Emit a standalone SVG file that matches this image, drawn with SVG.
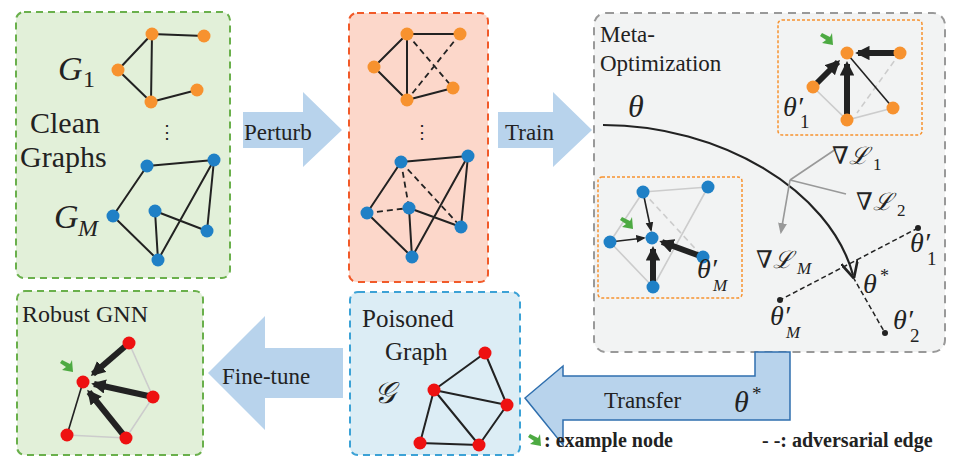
<svg xmlns="http://www.w3.org/2000/svg" width="960" height="471" viewBox="0 0 960 471">
<defs>
<style>
text{font-family:"Liberation Serif","DejaVu Serif","Times New Roman",serif}
.t{fill:#222}
.m{font-style:italic;fill:#222}
.e{stroke:#222;stroke-width:2;fill:none}
.d{stroke:#222;stroke-width:1.8;stroke-dasharray:6,4;fill:none}
.g{stroke:#ccc;stroke-width:1.6;fill:none}
.gd{stroke:#ccc;stroke-width:1.6;stroke-dasharray:6,4;fill:none}
.k{stroke:#222;stroke-width:6;fill:none}
.kt{stroke:#222;stroke-width:1.6;fill:none}
.o{fill:#f7922f}.b{fill:#1f80c6}.r{fill:#ee1111}
.ar{fill:#b8d3ec}
</style>
<marker id="ak" viewBox="0 0 10 10" refX="8" refY="5" markerWidth="2.4" markerHeight="2.4" orient="auto"><path d="M0,0L10,5L0,10z" fill="#222"/></marker>
<marker id="at" viewBox="0 0 10 10" refX="8" refY="5" markerWidth="6" markerHeight="6" orient="auto"><path d="M0,1L10,5L0,9z" fill="#222"/></marker>
<marker id="ag" viewBox="0 0 10 10" refX="8" refY="5" markerWidth="7" markerHeight="7" orient="auto"><path d="M0,1L10,5L0,9z" fill="#999"/></marker>
<marker id="ac" viewBox="0 0 10 10" refX="8" refY="5" markerWidth="8" markerHeight="8" orient="auto"><path d="M0,0L10,5L0,10" fill="none" stroke="#222" stroke-width="1.5"/></marker>
<path id="gr" d="M-6,-6L2,-2L4,-6L5,6L-6,4L-2,1L-8,-3z" fill="#4daa42"/>
</defs>

<g id="clean">
<rect x="16" y="12" width="214" height="266" rx="8" fill="#e2f0d9" stroke="#6ab04c" stroke-width="2" stroke-dasharray="7,5"/>
<path class="e" d="M152,34L204,36M152,34L118,70M152,34L151,102M118,70L151,102M151,102L197,90"/>
<circle class="o" cx="152" cy="34" r="6.5"/><circle class="o" cx="204" cy="36" r="6.5"/><circle class="o" cx="118" cy="70" r="6.5"/><circle class="o" cx="151" cy="102" r="6.5"/><circle class="o" cx="197" cy="90" r="6.5"/>
<path class="e" d="M147,166L214,160M147,166L113,216M113,216L158,260M155,211L158,260M155,211L207,231M214,160L207,231M214,160L158,260"/>
<circle class="b" cx="147" cy="166" r="6.5"/><circle class="b" cx="214" cy="160" r="6.5"/><circle class="b" cx="113" cy="216" r="6.5"/><circle class="b" cx="155" cy="211" r="6.5"/><circle class="b" cx="207" cy="231" r="6.5"/><circle class="b" cx="158" cy="260" r="6.5"/>
<text class="m" x="58" y="80" font-size="34">G</text><text class="t" x="83" y="87" font-size="24">1</text>
<text class="t" x="30" y="133" font-size="30">Clean</text>
<text class="t" x="20" y="167" font-size="30">Graphs</text>
<text class="m" x="54" y="228" font-size="34">G</text><text class="m" x="78" y="236" font-size="24">M</text>
<text class="t" x="158" y="138" font-size="18">⋮</text>
</g>

<g id="perturbed">
<rect x="349" y="13" width="139" height="269" rx="8" fill="#fcd7ca" stroke="#f15a29" stroke-width="2" stroke-dasharray="7,5"/>
<path class="e" d="M407,34L460,34M407,34L374,67M407,34L407,100M374,67L407,100M407,100L453,88"/>
<path class="d" d="M407,34L453,88M460,34L407,100"/>
<circle class="o" cx="407" cy="34" r="6.5"/><circle class="o" cx="460" cy="34" r="6.5"/><circle class="o" cx="374" cy="67" r="6.5"/><circle class="o" cx="407" cy="100" r="6.5"/><circle class="o" cx="453" cy="88" r="6.5"/>
<path class="e" d="M401,162L468,156M401,162L367,213M367,213L412,257M409,208L412,257M409,208L461,227M468,156L461,227M468,156L412,257"/>
<path class="d" d="M401,162L409,208M401,162L461,227M367,213L409,208"/>
<circle class="b" cx="401" cy="162" r="6.5"/><circle class="b" cx="468" cy="156" r="6.5"/><circle class="b" cx="367" cy="213" r="6.5"/><circle class="b" cx="409" cy="208" r="6.5"/><circle class="b" cx="461" cy="227" r="6.5"/><circle class="b" cx="412" cy="257" r="6.5"/>
<text class="t" x="413" y="138" font-size="18">⋮</text>
</g>

<g id="perturb">
<path class="ar" d="M243,112H303V92L342,130L303,167V148H243z"/>
<text class="t" x="244" y="140" font-size="23">Perturb</text>
</g>
<g id="train">
<path class="ar" d="M498,112H553V92L592,130L553,167V148H498z"/>
<text class="t" x="505" y="140" font-size="23">Train</text>
</g>

<g id="meta">
<rect x="594" y="13" width="351" height="339" rx="12" fill="#f2f3f3" stroke="#999" stroke-width="2" stroke-dasharray="8,6"/>
<text class="t" x="600" y="42" font-size="23">Meta-</text>
<text class="t" x="600" y="71" font-size="23">Optimization</text>
<text class="m" x="628" y="117" font-size="32">θ</text>
<rect x="778" y="20" width="144" height="115" rx="4" fill="none" stroke="#f7922f" stroke-width="1.5" stroke-dasharray="3,2"/>
<path class="g" d="M813,87L847,120L893,108"/>
<path class="gd" d="M900,53L857,113"/>
<path class="kt" d="M893,108L849,56"/>
<path class="k" marker-end="url(#ak)" d="M900,53L858,53"/>
<path class="k" marker-end="url(#ak)" d="M813,87L838,62"/>
<path class="k" marker-end="url(#ak)" d="M847,120L847,64"/>
<circle class="o" cx="847" cy="53" r="6.5"/><circle class="o" cx="900" cy="53" r="6.5"/><circle class="o" cx="813" cy="87" r="6.5"/><circle class="o" cx="847" cy="120" r="6.5"/><circle class="o" cx="893" cy="108" r="6.5"/>
<use href="#gr" x="828" y="39"/>
<text class="m" x="783" y="116" font-size="28">θ′</text><text class="t" x="800" y="128" font-size="19">1</text>

<rect x="598" y="177" width="144" height="121" rx="4" fill="none" stroke="#f7922f" stroke-width="1.5" stroke-dasharray="3,2"/>
<path class="g" d="M643,192L708,187M643,192L610,242M610,242L653,287M708,187L653,287"/>
<path class="gd" d="M643,192L703,257"/>
<path class="kt" marker-end="url(#at)" d="M643,192L651,230"/>
<path class="kt" marker-end="url(#at)" d="M610,242L644,238"/>
<path class="k" marker-end="url(#ak)" d="M703,257L662,242"/>
<path class="k" marker-end="url(#ak)" d="M653,287L653,249"/>
<circle class="b" cx="643" cy="192" r="6.5"/><circle class="b" cx="708" cy="187" r="6.5"/><circle class="b" cx="610" cy="242" r="6.5"/><circle class="b" cx="652" cy="238" r="6.5"/><circle class="b" cx="703" cy="257" r="6.5"/><circle class="b" cx="653" cy="287" r="6.5"/>
<use href="#gr" x="628" y="223"/>
<text class="m" x="697" y="278" font-size="28">θ′</text><text class="m" x="713" y="291" font-size="17">M</text>

<path d="M603,125C720,125 830,190 853,275" stroke="#222" stroke-width="2.2" fill="none" marker-end="url(#ac)"/>
<path d="M790,180L836,149M790,180L846,194M790,180L781,232" stroke="#999" stroke-width="1.6" fill="none" marker-end="url(#ag)"/>
<text class="t" x="832" y="164" font-size="24">∇<tspan class="m">ℒ</tspan></text><text class="t" x="873" y="170" font-size="17">1</text>
<text class="t" x="856" y="210" font-size="24">∇<tspan class="m">ℒ</tspan></text><text class="t" x="897" y="216" font-size="17">2</text>
<text class="t" x="756" y="268" font-size="24">∇<tspan class="m">ℒ</tspan></text><text class="m" x="797" y="274" font-size="17">M</text>
<path d="M918,228L780,300M853,277L885,333" stroke="#222" stroke-width="1.5" stroke-dasharray="5,3" fill="none"/>
<circle cx="918" cy="228" r="3" fill="#222"/><circle cx="780" cy="300" r="3" fill="#222"/><circle cx="885" cy="333" r="3" fill="#222"/>
<text class="m" x="910" y="252" font-size="28">θ′</text><text class="t" x="927" y="265" font-size="19">1</text>
<text class="m" x="863" y="293" font-size="28">θ</text><text class="t" x="880" y="282" font-size="18">*</text>
<text class="m" x="770" y="325" font-size="28">θ′</text><text class="m" x="786" y="338" font-size="17">M</text>
<text class="m" x="893" y="329" font-size="28">θ′</text><text class="t" x="910" y="342" font-size="19">2</text>
</g>

<g id="robust">
<rect x="17" y="291" width="186" height="164" rx="8" fill="#e2f0d9" stroke="#6ab04c" stroke-width="2" stroke-dasharray="7,5"/>
<text class="t" x="22" y="322" font-size="24">Robust GNN</text>
<path class="g" d="M129,343L153,397L126,438L67,435"/>
<path class="kt" d="M83,382L67,435"/>
<path class="k" marker-end="url(#ak)" d="M129,343L93,374"/>
<path class="k" marker-end="url(#ak)" d="M153,397L94,384"/>
<path class="k" marker-end="url(#ak)" d="M126,438L89,392"/>
<circle class="r" cx="129" cy="343" r="6.5"/><circle class="r" cx="83" cy="382" r="6.5"/><circle class="r" cx="153" cy="397" r="6.5"/><circle class="r" cx="67" cy="435" r="6.5"/><circle class="r" cx="126" cy="438" r="6.5"/>
<use href="#gr" x="68" y="366"/>
</g>

<g id="finetune">
<path class="ar" d="M343,348H265V316L208,373L265,430V398H343z"/>
<text class="t" x="222" y="384" font-size="23">Fine-tune</text>
</g>

<g id="poisoned">
<rect x="350" y="292" width="170" height="163" rx="8" fill="#dcedf5" stroke="#3ca2d6" stroke-width="2" stroke-dasharray="7,5"/>
<text class="t" x="362" y="327" font-size="25">Poisoned</text>
<text class="t" x="385" y="360" font-size="25">Graph</text>
<text class="m" x="374" y="403" font-size="30">𝒢</text>
<path class="e" d="M485,353L434,390M485,353L507,405M434,390L420,443M434,390L479,445M507,405L479,445"/>
<path class="e" stroke-width="3.5" d="M434,390L507,405M420,443L479,445"/>
<circle class="r" cx="485" cy="353" r="6.5"/><circle class="r" cx="434" cy="390" r="6.5"/><circle class="r" cx="507" cy="405" r="6.5"/><circle class="r" cx="420" cy="443" r="6.5"/><circle class="r" cx="479" cy="445" r="6.5"/>
</g>

<g id="transfer">
<path d="M755,352H790V420H563V445L525,398L563,366V376H755z" fill="#b8d3ec" stroke="#2f6fae" stroke-width="1.5"/>
<text class="t" x="604" y="408" font-size="23">Transfer</text>
<text class="m" x="734" y="412" font-size="30">θ</text><text class="t" x="752" y="400" font-size="19">*</text>
</g>

<g id="legend">
<use href="#gr" x="536" y="440"/>
<text class="t" x="544" y="447" font-size="20" font-weight="bold">: example node</text>
<text class="t" x="762" y="447" font-size="20" font-weight="bold">- -: adversarial edge</text>
</g>
</svg>
